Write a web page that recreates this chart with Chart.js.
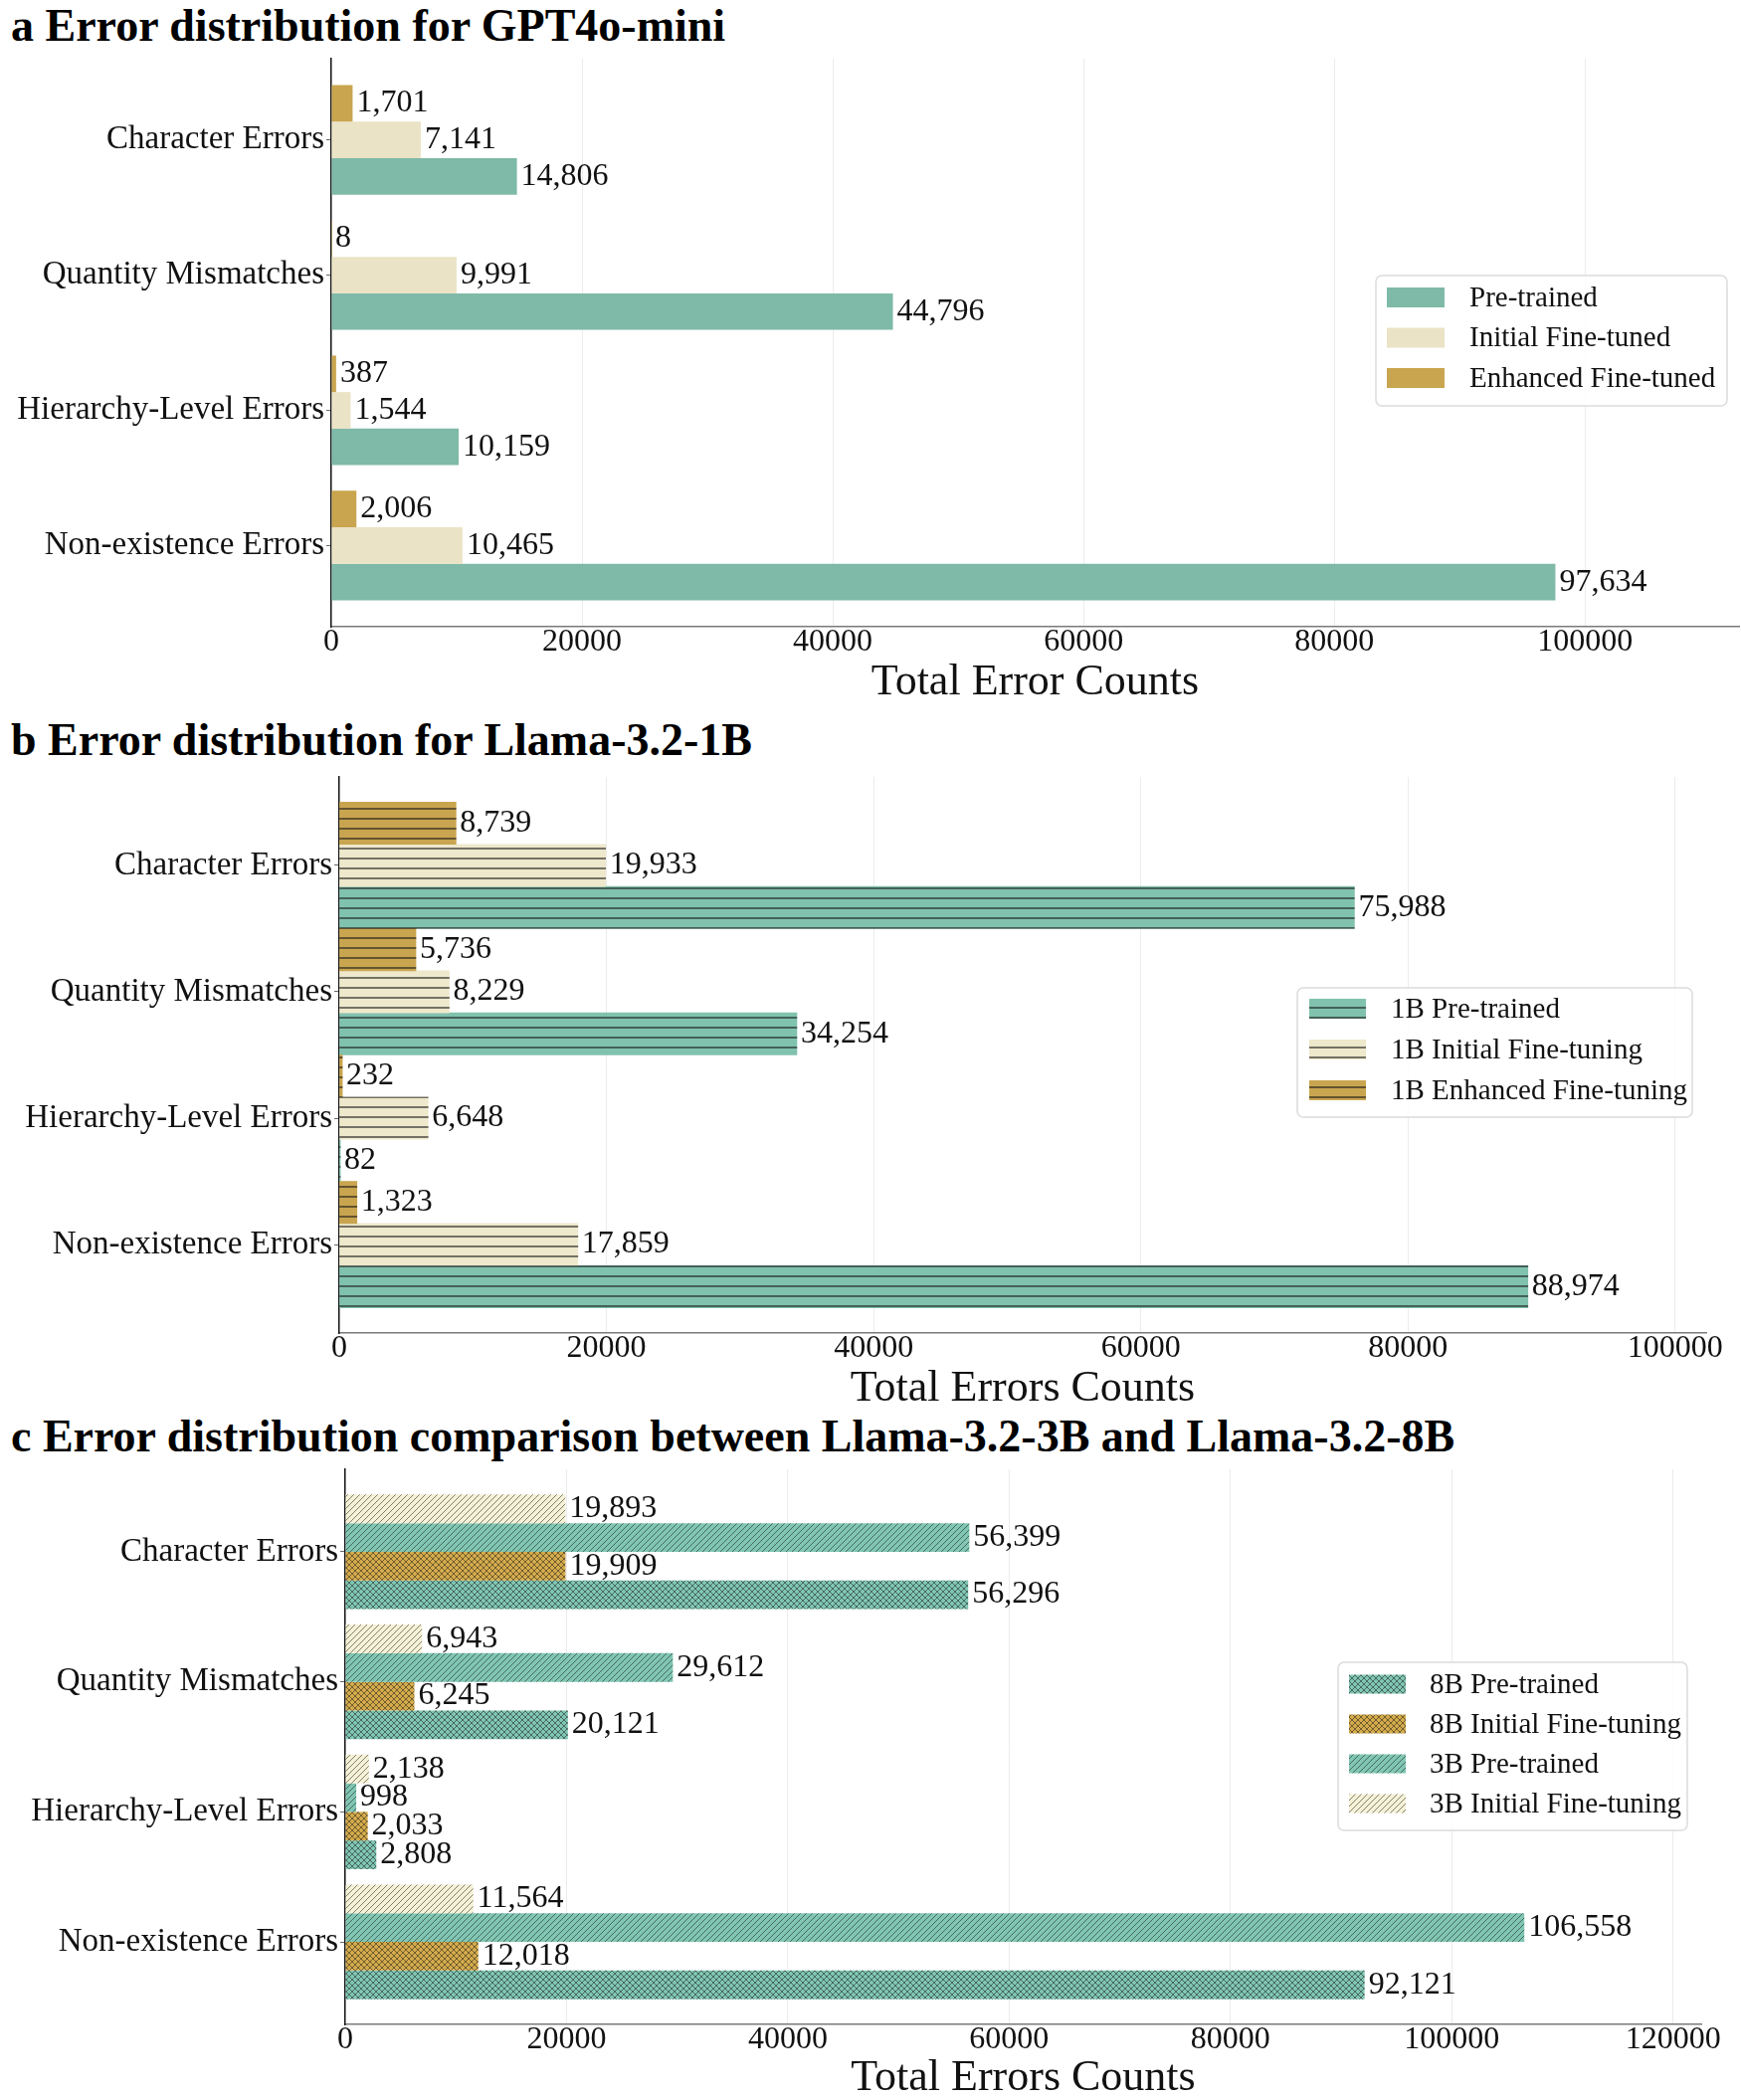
<!DOCTYPE html>
<html>
<head>
<meta charset="utf-8">
<script src="https://cdn.jsdelivr.net/npm/chart.js@4.4.1/dist/chart.umd.min.js"></script>
<style>
  html, body { margin: 0; padding: 0; background: #fff; }
  body { width: 1750px; height: 2111px; position: relative; overflow: hidden; font-family: "Liberation Serif", "Times New Roman", serif; }
  .panel-title { position: absolute; left: 11px; font-weight: bold; font-size: 46px; line-height: 46px; color: #000; white-space: nowrap; }
  canvas { position: absolute; left: 0; }
</style>
</head>
<body>
<div class="panel-title" style="top:3px">a Error distribution for GPT4o-mini</div>
<div class="panel-title" style="top:721px">b Error distribution for Llama-3.2-1B</div>
<div class="panel-title" style="top:1421px">c Error distribution comparison between Llama-3.2-3B and Llama-3.2-8B</div>
<canvas id="chartA" width="1750" height="720" style="top:0px"></canvas>
<canvas id="chartB" width="1750" height="700" style="top:720px"></canvas>
<canvas id="chartC" width="1750" height="691" style="top:1420px"></canvas>
<script>
const categories = ['Character Errors', 'Quantity Mismatches', 'Hierarchy-Level Errors', 'Non-existence Errors'];

// a - GPT4o-mini
const gptEnhanced = [1701, 8, 387, 2006];
const gptInitial = [7141, 9991, 1544, 10465];
const gptPretrained = [14806, 44796, 10159, 97634];
const ticksA = [0, 20000, 40000, 60000, 80000, 100000];

// b - Llama-3.2-1B
const l1bEnhanced = [8739, 5736, 232, 1323];
const l1bInitial = [19933, 8229, 6648, 17859];
const l1bPretrained = [75988, 34254, 82, 88974];
const ticksB = [0, 20000, 40000, 60000, 80000, 100000];

// c - Llama-3.2-3B / 8B
const l3bInitial = [19893, 6943, 2138, 11564];
const l3bPretrained = [56399, 29612, 998, 106558];
const l8bInitial = [19909, 6245, 2033, 12018];
const l8bPretrained = [56296, 20121, 2808, 92121];
const ticksC = [0, 20000, 40000, 60000, 80000, 100000, 120000];

const FONT = '"Liberation Serif", "Times New Roman", serif';
const TEAL = '#7fb9a8';
const CREAM = '#ebe3c6';
const GOLD = '#c9a54f';

// hatch fills like matplotlib: 'h' = horizontal, '/' = diagonal, 'x' = cross
function hatch(fill, kind) {
  const s = kind === 'h' ? 10 : 6;
  const c = document.createElement('canvas');
  c.width = s; c.height = s;
  const g = c.getContext('2d');
  g.fillStyle = fill;
  g.fillRect(0, 0, s, s);
  if (kind === 'h') {
    g.strokeStyle = 'rgba(20,20,20,0.8)';
    g.lineWidth = 1.4;
    g.beginPath(); g.moveTo(0, 3); g.lineTo(s, 3); g.stroke();
  } else {
    g.strokeStyle = 'rgba(20,20,20,0.65)';
    g.lineWidth = 0.8;
    g.beginPath();
    for (const k of [-s, 0, s]) { g.moveTo(k, s); g.lineTo(k + s, 0); }
    if (kind === 'x') for (const k of [-s, 0, s]) { g.moveTo(k, 0); g.lineTo(k + s, s); }
    g.stroke();
  }
  return g.createPattern(c, 'repeat');
}

function toPoints(values) {
  return values.map((v, i) => ({ x: v, y: i }));
}

// numbers at the end of each bar
const valueLabels = {
  id: 'valueLabels',
  afterDatasetsDraw(chart) {
    const ctx = chart.ctx;
    ctx.save();
    ctx.font = '32px ' + FONT;
    ctx.fillStyle = '#111';
    ctx.textAlign = 'left';
    ctx.textBaseline = 'middle';
    chart.data.datasets.forEach((ds, di) => {
      chart.getDatasetMeta(di).data.forEach((bar, i) => {
        ctx.fillText(ds.data[i].x.toLocaleString('en-US'), bar.x + 4, bar.y);
      });
    });
    ctx.restore();
  }
};

// boxed legend inside the plot, reversed order
const boxLegend = {
  id: 'boxLegend',
  afterDraw(chart, args, o) {
    const ctx = chart.ctx;
    ctx.save();
    ctx.beginPath();
    ctx.roundRect(o.x, o.y, o.w, o.h, 6);
    ctx.fillStyle = 'rgba(255,255,255,0.85)';
    ctx.fill();
    ctx.lineWidth = 1.5;
    ctx.strokeStyle = '#dcdcdc';
    ctx.stroke();
    ctx.font = '29px ' + FONT;
    ctx.textBaseline = 'middle';
    const items = chart.data.datasets.slice().reverse();
    items.forEach((ds, k) => {
      const cy = o.y + o.first + k * o.row;
      ctx.fillStyle = ds.backgroundColor;
      ctx.fillRect(o.x + o.sx, cy - o.sh / 2, o.sw, o.sh);
      ctx.fillStyle = '#111';
      ctx.fillText(ds.label, o.x + o.tx, cy + 1);
    });
    ctx.restore();
  }
};

function makeChart(id, p) {
  new Chart(document.getElementById(id), {
    type: 'bar',
    data: {
      datasets: p.series.map(s => ({
        label: s.label,
        data: toPoints(s.values),
        backgroundColor: s.color,
        borderWidth: 0,
        categoryPercentage: p.groupPct,
        barPercentage: 1
      }))
    },
    options: {
      indexAxis: 'y',
      responsive: false,
      animation: false,
      layout: { padding: { top: p.areaTop, left: 0, right: 1750 - p.right, bottom: p.padBottom } },
      plugins: { legend: { display: false }, tooltip: { enabled: false }, boxLegend: p.legend },
      scales: {
        x: {
          type: 'linear',
          min: 0,
          max: p.xMax,
          afterBuildTicks: s => { s.ticks = p.ticks.map(v => ({ value: v })); },
          afterFit: s => { s.height = p.xHeight; },
          grid: { color: c => c.tick && c.tick.value === 0 ? 'rgba(0,0,0,0)' : '#ececec', lineWidth: 1, drawTicks: false },
          border: { color: '#7a7a7a', width: 1.5 },
          ticks: { padding: 0, color: '#111', font: { family: FONT, size: 32, lineHeight: 1 }, maxRotation: 0, autoSkip: false, callback: v => String(v) },
          title: { display: true, text: p.xTitle, color: '#111', padding: 0, font: { family: FONT, size: 44, lineHeight: 1 } }
        },
        y: {
          type: 'linear',
          reverse: true,
          offset: false,
          min: p.yMin,
          max: p.yMax,
          afterBuildTicks: s => { s.ticks = categories.map((_, i) => ({ value: i })); },
          afterFit: s => { s.width = p.left; },
          grid: { drawOnChartArea: false, drawTicks: true, tickLength: 5, color: '#666', offset: false },
          border: { color: '#111', width: 1.5 },
          ticks: { padding: 2, color: '#111', font: { family: FONT, size: 33 }, autoSkip: false, callback: v => categories[v] }
        }
      }
    },
    plugins: [valueLabels, boxLegend]
  });
}

makeChart('chartA', {
  series: [
    { label: 'Enhanced Fine-tuned', values: gptEnhanced, color: GOLD },
    { label: 'Initial Fine-tuned', values: gptInitial, color: CREAM },
    { label: 'Pre-trained', values: gptPretrained, color: TEAL }
  ],
  ticks: ticksA,
  xMax: Math.max(...gptPretrained) * 1.15,
  xTitle: 'Total Error Counts',
  groupPct: 0.81, yMin: -0.6, yMax: 3.6,
  left: 333, right: 1748, areaTop: 59, xHeight: 78, padBottom: 12,
  legend: { x: 1383, y: 277, w: 353, h: 131, first: 22, row: 40.5, sx: 11, sw: 58, sh: 20, tx: 94 }
});

makeChart('chartB', {
  series: [
    { label: '1B Enhanced Fine-tuning', values: l1bEnhanced, color: hatch(GOLD, 'h') },
    { label: '1B Initial Fine-tuning', values: l1bInitial, color: hatch('#eee8cc', 'h') },
    { label: '1B Pre-trained', values: l1bPretrained, color: hatch('#80c2ae', 'h') }
  ],
  ticks: ticksB,
  xMax: Math.max(...l1bPretrained) * 1.15,
  xTitle: 'Total Errors Counts',
  groupPct: 1.0, yMin: -0.7, yMax: 3.7,
  left: 341, right: 1715, areaTop: 61, xHeight: 78, padBottom: 2,
  legend: { x: 1304, y: 273, w: 397, h: 130, first: 21, row: 41, sx: 12, sw: 57, sh: 20, tx: 94 }
});

makeChart('chartC', {
  series: [
    { label: '3B Initial Fine-tuning', values: l3bInitial, color: hatch('#f5f1d6', '/') },
    { label: '3B Pre-trained', values: l3bPretrained, color: hatch('#80c6b2', '/') },
    { label: '8B Initial Fine-tuning', values: l8bInitial, color: hatch('#d4ab4c', 'x') },
    { label: '8B Pre-trained', values: l8bPretrained, color: hatch('#80c6b2', 'x') }
  ],
  ticks: ticksC,
  xMax: Math.max(...l3bPretrained) * 1.15,
  xTitle: 'Total Errors Counts',
  groupPct: 0.88, yMin: -0.634, yMax: 3.634,
  left: 347, right: 1710, areaTop: 57, xHeight: 76, padBottom: 0,
  legend: { x: 1345, y: 251, w: 351, h: 169, first: 22, row: 40, sx: 11, sw: 57, sh: 19, tx: 92 }
});
</script>
</body>
</html>
